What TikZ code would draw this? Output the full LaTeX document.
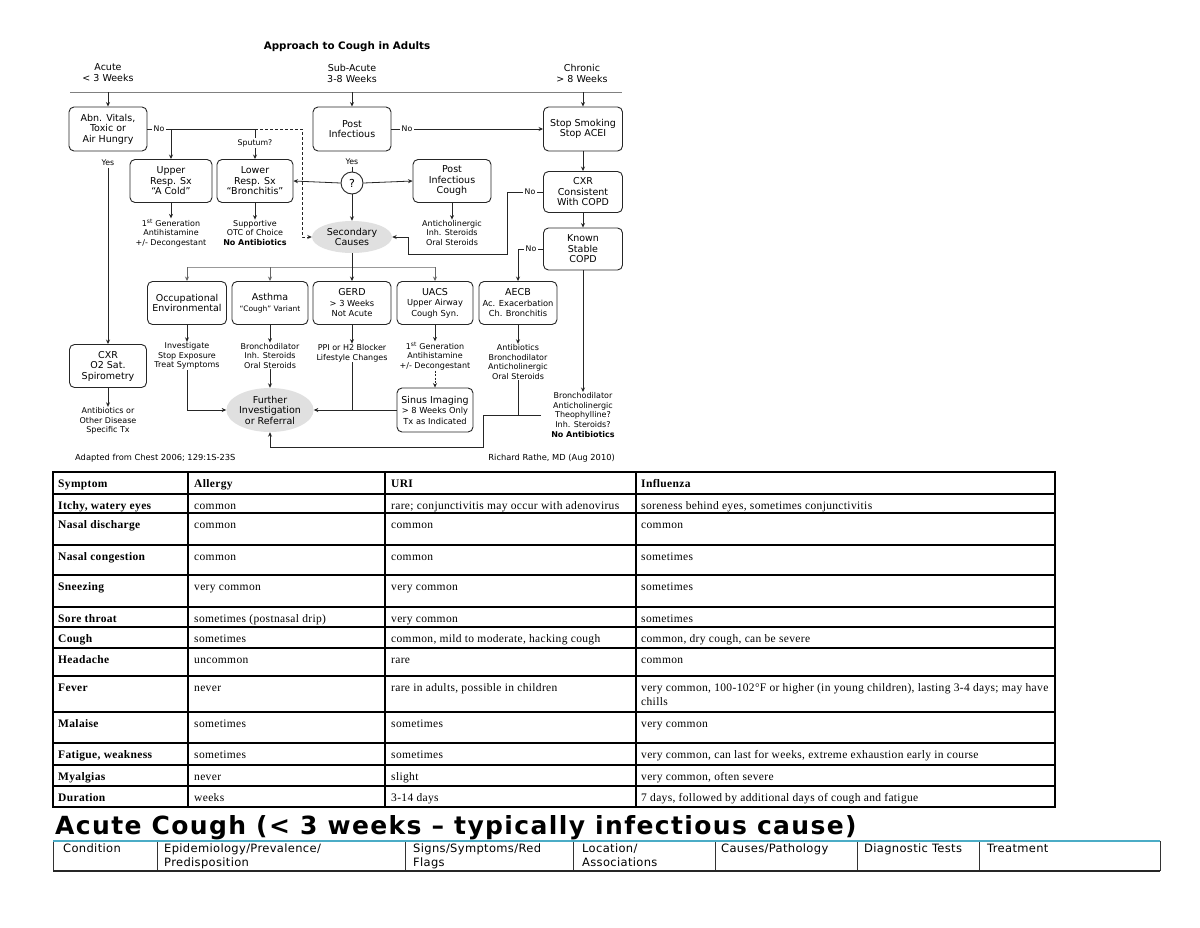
\documentclass[tikz,border=0pt]{standalone}
\usepackage{fontspec}
\setmainfont{Liberation Serif}[LetterSpace=3]
\newfontfamily\dvs{DejaVu Sans}
\newfontfamily\dvsw{DejaVu Sans}[LetterSpace=3]
\newfontfamily\dvsh{DejaVu Sans}[LetterSpace=5.5]
\usetikzlibrary{arrows.meta,shapes.geometric,calc}
\newcommand\fcbox{\dvs\fontsize{9.5}{10.5}\selectfont}
\newcommand\fcs{\fontsize{8.3}{9.5}\selectfont}
\newcommand\fcsub{\dvs\fontsize{8}{9.6}\selectfont}
\newcommand\fclab{\dvs\fontsize{7.8}{8.5}\selectfont}
\tikzset{
 fc/.style={draw=black!85, line width=0.9pt, rounded corners=5pt, align=center, font=\fcbox, inner sep=1pt},
 note/.style={align=center, font=\fcsub, inner sep=0.5pt},
 lab/.style={font=\fclab, inner sep=1.5pt},
 arr/.style={-{Stealth[length=4.5pt,width=4pt]}, line width=0.8pt, draw=black!85},
 ln/.style={line width=0.8pt, draw=black!85},
 blob/.style={ellipse, fill=black!12, align=center, font=\fcbox, inner sep=0pt},
 cell/.style={anchor=base west, font=\fontsize{11.5}{13}\selectfont, inner sep=0pt},
 hcell/.style={cell, font=\fontsize{11.5}{13}\selectfont\bfseries},
 tline/.style={line width=1.4pt, black},
 ctext/.style={anchor=base west, font=\dvsw\fontsize{11.5}{13}\selectfont, inner sep=0pt},
}
\newcommand\trow[5]{%
 \node[hcell] (s#1) at (58,#1+15) {#2};
 \node[cell] (a#1) at (194,#1+15) {#3};
 \node[cell] (u#1) at (391,#1+15) {#4};
 \node[cell] (i#1) at (641,#1+15) {#5};}
\begin{document}
\begin{tikzpicture}[x=1pt,y=-1pt]
\path[use as bounding box] (0,0) rectangle (1200,927);
\fill[white] (0,0) rectangle (1200,927);

% ---------------- flowchart ----------------
\node[font=\dvs\bfseries\fontsize{10.3}{11}\selectfont] (title) at (347,47) {Approach to Cough in Adults};
\node[align=center, font=\dvs\fontsize{9.5}{11}\selectfont] (acute) at (108,73) {Acute\\< 3 Weeks};
\node[align=center, font=\dvs\fontsize{9.5}{11}\selectfont] (subac) at (352,73) {Sub-Acute\\3-8 Weeks};
\node[align=center, font=\dvs\fontsize{9.5}{11}\selectfont] (chron) at (582,73) {Chronic\\> 8 Weeks};
\draw[black!50, line width=0.8pt] (70,92) -- (622,92);
\coordinate (h1) at (108,92); \coordinate (h2) at (352,92); \coordinate (h3) at (583,92);

\node[fc, minimum width=78pt, minimum height=44pt] (abn) at (108,129) {Abn. Vitals,\\Toxic or\\Air Hungry};
\node[fc, minimum width=78pt, minimum height=44pt] (postinf) at (352,129) {Post\\Infectious};
\node[fc, minimum width=79pt, minimum height=44pt] (stop) at (583,129) {Stop Smoking\\Stop ACEI};
\node[fc, minimum width=82pt, minimum height=43pt] (upper) at (171,181) {Upper\\Resp. Sx\\“A Cold”};
\node[fc, minimum width=76pt, minimum height=43pt] (lower) at (255,181) {Lower\\Resp. Sx\\“Bronchitis”};
\node[circle, draw=black!85, line width=0.9pt, minimum size=22pt, inner sep=0pt, font=\dvs\fontsize{11}{12}\selectfont] (q) at (352,183) {?};
\node[fc, minimum width=78pt, minimum height=43pt] (pic) at (452,181) {Post\\Infectious\\Cough};
\node[fc, minimum width=79pt, minimum height=41pt] (cxr1) at (583,192) {CXR\\Consistent\\With COPD};
\node[fc, minimum width=79pt, minimum height=42pt] (known) at (583,249) {Known\\Stable\\COPD};
\node[blob, minimum width=80pt, minimum height=32pt] (sec) at (352,237) {Secondary\\Causes};

\draw[arr] (h1) -- (abn.north);
\draw[arr] (h2) -- (postinf.north);
\draw[arr] (h3) -- (stop.north);

\node[lab] (no1) at (159,129) {No};
\coordinate (j1) at (171,129); \coordinate (j2) at (255,129);
\coordinate (j3) at (302,129); \coordinate (j4) at (302,237);
\draw[ln] (abn.east) -- (no1.west);
\draw[ln] (no1.east) -- (j2);
\draw[arr] (j1) -- (upper.north);
\node[lab, fill=white] (sput) at (255,143) {Sputum?};
\draw[ln] (j2) -- (sput.north);
\draw[arr] (sput.south) -- (lower.north);
\draw[arr, dash pattern=on 3pt off 2pt] (j2) -- (j3) -- (j4) -- (sec.west);

\node[lab] (yes1) at (108,163) {Yes};
\node[lab] (yes2) at (352,162) {Yes};
\draw[ln] (yes2.south) -- (q.north);
\node[lab] (no2) at (407,129) {No};
\draw[ln] (postinf.east) -- (no2.west);
\draw[arr] (no2.east) -- (stop.west);
\draw[arr] (q.west) -- (lower.east);
\draw[arr] (q.east) -- (pic.west);
\draw[arr] (q.south) -- (sec.north);
\draw[arr] (stop.south) -- (cxr1.north);
\draw[arr] (cxr1.south) -- (known.north);

\node[note] (nupper) at (171,233) {1\textsuperscript{st} Generation\\Antihistamine\\+/- Decongestant};
\node[note] (nlower) at (255,233) {Supportive\\OTC of Choice\\\textbf{No Antibiotics}};
\node[note] (npic) at (452,233) {Anticholinergic\\Inh. Steroids\\Oral Steroids};
\draw[arr] (upper.south) -- (nupper.north);
\draw[arr] (lower.south) -- (nlower.north);
\draw[arr] (pic.south) -- (npic.north);

\node[lab] (no3) at (530,192) {No};
\coordinate (k1) at (507,192); \coordinate (k2) at (507,254);
\coordinate (k3) at (408,254); \coordinate (k4) at (408,237);
\draw[ln] (cxr1.west) -- (no3.east);
\draw[arr] (no3.west) -- (k1) -- (k2) -- (k3) -- (k4) -- (sec.east);

% second row
\node[fc, minimum width=79pt, minimum height=43pt] (occ) at (187,303) {Occupational\\Environmental};
\node[fc, minimum width=76pt, minimum height=43pt] (asth) at (270,303) {Asthma\\{\fontsize{7.5}{8.5}\selectfont “Cough” Variant}};
\node[fc, minimum width=78pt, minimum height=43pt] (gerd) at (352,303) {GERD\\{\fcs > 3 Weeks}\\{\fcs Not Acute}};
\node[fc, minimum width=76pt, minimum height=43pt] (uacs) at (435,303) {UACS\\{\fcs Upper Airway}\\{\fcs Cough Syn.}};
\node[fc, minimum width=78pt, minimum height=43pt] (aecb) at (518,303) {AECB\\{\fcs Ac. Exacerbation}\\{\fcs Ch. Bronchitis}};

\node[lab] (no4) at (531,249) {No};
\coordinate (k5) at (518,249);
\draw[ln] (known.west) -- (no4.east);
\draw[arr] (no4.west) -- (k5) -- (aecb.north);

\coordinate (m0) at (352,267); \coordinate (m1) at (187,267);
\coordinate (m2) at (270,267); \coordinate (m4) at (435,267);
\draw[ln] (sec.south) -- (m0);
\draw[black!40, line width=0.8pt] (m1) -- (m4);
\draw[arr, draw=black!60] (m1) -- (occ.north);
\draw[arr, draw=black!60] (m2) -- (asth.north);
\draw[arr] (m0) -- (gerd.north);
\draw[arr, draw=black!60] (m4) -- (uacs.north);

\node[note] (nocc) at (187,356) {Investigate\\Stop Exposure\\Treat Symptoms};
\node[note] (nasth) at (270,356) {Bronchodilator\\Inh. Steroids\\Oral Steroids};
\node[note] (ngerd) at (352,353) {PPI or H2 Blocker\\Lifestyle Changes};
\node[note] (nuacs) at (435,356) {1\textsuperscript{st} Generation\\Antihistamine\\+/- Decongestant};
\node[note] (naecb) at (518,362) {Antibiotics\\Bronchodilator\\Anticholinergic\\Oral Steroids};
\node[note] (ncopd) at (583,415) {Bronchodilator\\Anticholinergic\\Theophylline?\\Inh. Steroids?\\\textbf{No Antibiotics}};
\draw[arr] (occ.south) -- (nocc.north);
\draw[arr] (asth.south) -- (nasth.north);
\draw[arr] (gerd.south) -- (ngerd.north);
\draw[arr] (uacs.south) -- (nuacs.north);
\draw[arr] (aecb.south) -- (naecb.north);
\draw[arr] (known.south) -- (ncopd.north);

\node[fc, minimum width=77pt, minimum height=43pt] (cxr2) at (108,366) {CXR\\O2 Sat.\\Spirometry};
\draw[arr] (yes1.south) -- (cxr2.north);
\node[note] (ncxr) at (108,421) {Antibiotics or\\Other Disease\\Specific Tx};
\draw[arr] (cxr2.south) -- (ncxr.north);

\node[blob, minimum width=86pt, minimum height=44pt] (further) at (270,410) {Further\\Investigation\\or Referral};
\node[fc, minimum width=76pt, minimum height=44pt] (sinus) at (435,410) {Sinus Imaging\\{\fcs > 8 Weeks Only}\\{\fcs Tx as Indicated}};

\coordinate (f1) at (187,410); \coordinate (f2) at (352,410);
\draw[arr] (nocc.south) -- (f1) -- (further.west);
\draw[arr] (nasth.south) -- (further.north);
\draw[ln] (ngerd.south) -- (f2);
\draw[arr] (sinus.west) -- (further.east);
\draw[arr, dash pattern=on 2pt off 1.5pt] (nuacs.south) -- (sinus.north);

\coordinate (g1) at (518,415); \coordinate (g2) at (541,415); \coordinate (g3) at (483,415);
\coordinate (g4) at (483,447); \coordinate (g5) at (270,447);
\draw[ln] (naecb.south) -- (g1);
\draw[arr] (g2) -- (g3) -- (g4) -- (g5) -- (further.south);

\node[anchor=west, font=\dvs\fontsize{8.3}{9}\selectfont, inner sep=0pt] (src) at (75,458) {Adapted from Chest 2006; 129:1S-23S};
\node[anchor=east, font=\dvs\fontsize{8.3}{9}\selectfont, inner sep=0pt] (auth) at (615,458) {Richard Rathe, MD (Aug 2010)};

% ---------------- symptom table ----------------
\foreach \y in {494,513,545,575,607,627,648,676,712,743,765,786}
  \draw[tline] (53,\y) -- (1055,\y);
\foreach \x in {188,385,636}
  \draw[tline] (\x,472) -- (\x,807);
\draw[line width=1.8pt] (53,472) rectangle (1055,807);

\node[hcell] (hsym) at (58,487) {Symptom};
\node[hcell] (hall) at (194,487) {Allergy};
\node[hcell] (huri) at (391,487) {URI};
\node[hcell] (hinf) at (641,487) {Influenza};
\trow{494}{Itchy, watery eyes}{common}{rare; conjunctivitis may occur with adenovirus}{soreness behind eyes, sometimes conjunctivitis}
\trow{513}{Nasal discharge}{common}{common}{common}
\trow{545}{Nasal congestion}{common}{common}{sometimes}
\trow{575}{Sneezing}{very common}{very common}{sometimes}
\trow{607}{Sore throat}{sometimes (postnasal drip)}{very common}{sometimes}
\trow{627}{Cough}{sometimes}{common, mild to moderate, hacking cough}{common, dry cough, can be severe}
\trow{648}{Headache}{uncommon}{rare}{common}
\trow{676}{Fever}{never}{rare in adults, possible in children}{very common, 100-102°F or higher (in young children), lasting 3-4 days; may have}
\node[cell] (i676b) at (641,705) {chills};
\trow{712}{Malaise}{sometimes}{sometimes}{very common}
\trow{743}{Fatigue, weakness}{sometimes}{sometimes}{very common, can last for weeks, extreme exhaustion early in course}
\trow{765}{Myalgias}{never}{slight}{very common, often severe}
\trow{786}{Duration}{weeks}{3-14 days}{7 days, followed by additional days of cough and fatigue}

% ---------------- acute cough table ----------------
\node[anchor=base west, inner sep=0pt, font=\dvsh\bfseries\fontsize{25}{28}\selectfont] (head) at (55,834) {Acute Cough (< 3 weeks – typically infectious cause)};
\foreach \x in {53,157,405,573,715,857,979,1160}
  \draw[black!80, line width=0.8pt] (\x,841) -- (\x,871);
\draw[black!85, line width=1.3pt] (53,871) -- (1160,871);
\draw[color={rgb,255:red,75;green,172;blue,198}, line width=2pt] (53,841) -- (1160,841);
\node[ctext] (t1) at (63,852) {Condition};
\node[ctext] (t2) at (164,852) {Epidemiology/Prevalence/};
\node[ctext] (t2b) at (164,866) {Predisposition};
\node[ctext] (t3) at (413,852) {Signs/Symptoms/Red};
\node[ctext] (t3b) at (413,866) {Flags};
\node[ctext] (t4) at (582,852) {Location/};
\node[ctext] (t4b) at (582,866) {Associations};
\node[ctext] (t5) at (721,852) {Causes/Pathology};
\node[ctext] (t6) at (864,852) {Diagnostic Tests};
\node[ctext] (t7) at (987,852) {Treatment};
\end{tikzpicture}
\end{document}
